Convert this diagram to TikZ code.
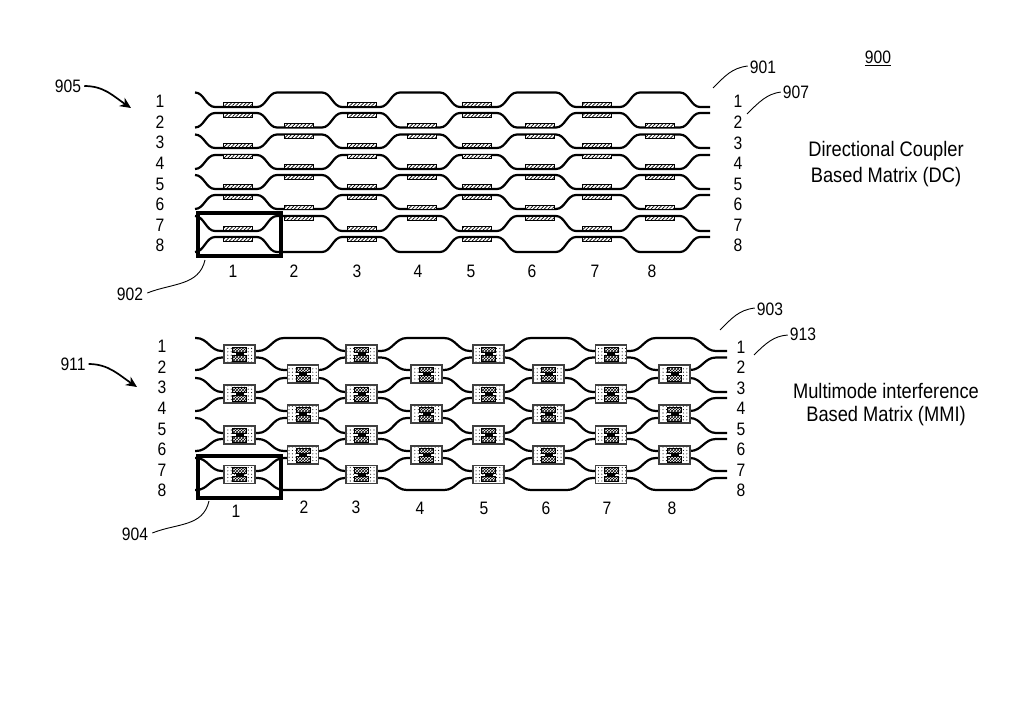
\documentclass[tikz,border=0pt]{standalone}
\usepackage{fontspec}
\setmainfont[FakeStretch=0.87]{Liberation Sans}
\usetikzlibrary{patterns,patterns.meta,arrows.meta}

\begin{document}
\begin{tikzpicture}[x=1pt,y=-1pt,
	wg/.style={line width=2.2pt, line join=round},
	hatch/.style={draw, line width=1pt, pattern={Lines[angle=45,distance=2.6pt,line width=0.7pt]}, preaction={fill=white}},
	mmi/.style={draw=black!75, line width=1.2pt, pattern={Dots[distance=3.4pt,radius=0.55pt]}, preaction={fill=white}},
	core/.style={draw, line width=0.8pt, pattern=crosshatch, preaction={fill=white}},
	unitbox/.style={draw, line width=3.5pt},
	lead/.style={line width=0.9pt},
	callout/.style={line width=1.7pt, -{Stealth[length=11pt,width=10pt]}},
	num/.style={font=\fontsize{18}{18}\selectfont, inner sep=0pt},
	caption/.style={font=\fontsize{21}{21}\selectfont, inner sep=0pt}]
	\useasboundingbox (0,0) rectangle (1024,702);

	% DC matrix
	\foreach \first/\second in {92.5/107,127.5/113,134.5/148,169/155,175/189,209/195,216/231,252/237}{
		\draw[wg] (195,\first) \foreach \t [count=\k, evaluate=\k as \ya using {ifthenelse(isodd(\k),\first,\second)}, evaluate=\k as \yb using {ifthenelse(isodd(\k),\second,\first)}] in {205,267,332,390,450,507,566,630,690}{
			-- (\t-10,\ya) .. controls (\t-1,\ya) and (\t+1,\yb) .. (\t+10,\yb)
		} -- (710,\second);
	}
	\foreach \x in {238,361.5,477,596.5}{
		\foreach \y in {107,148,189,231}{
			\draw[hatch] (\x-14.5,\y-4.5) rectangle (\x+14.5,\y-0.5);
			\draw[hatch] (\x-14.5,\y+6.5) rectangle (\x+14.5,\y+10.5);
		}
	}
	\foreach \x in {298.5,421.5,540,660}{
		\foreach \y in {127.5,169,209.5}{
			\draw[hatch] (\x-14.5,\y-4.5) rectangle (\x+14.5,\y-0.5);
			\draw[hatch] (\x-14.5,\y+6.5) rectangle (\x+14.5,\y+10.5);
		}
	}
	\draw[unitbox] (198,213) rectangle (281,256);

	% MMI matrix
	\foreach \first/\second in {338/351,370/357.5,378/392,411/398,418/433,451/439,458/471,490/478}{
		\draw[wg] (195,\first) \foreach \t [count=\k, evaluate=\k as \ya using {ifthenelse(isodd(\k),\first,\second)}, evaluate=\k as \yb using {ifthenelse(isodd(\k),\second,\first)}] in {209,271,332,394,457,518,580,643,703}{
			-- (\t-13,\ya) .. controls (\t-1,\ya) and (\t+1,\yb) .. (\t+13,\yb)
		} -- (727,\second);
	}
	\foreach \x in {239.5,361.5,488.5,611}{
		\foreach \y in {354,394,435,474.5}{
			\draw[mmi] (\x-15.5,\y-9) rectangle (\x+15.5,\y+9);
			\draw[core] (\x-7,\y-7) rectangle (\x+7,\y-1.5);
			\draw[core] (\x-7,\y+1.5) rectangle (\x+7,\y+7);
			\fill (\x-4,\y-2) rectangle (\x+4,\y+2);
		}
	}
	\foreach \x in {303,426.5,548.5,674.5}{
		\foreach \y in {374,414,455}{
			\draw[mmi] (\x-15.5,\y-9) rectangle (\x+15.5,\y+9);
			\draw[core] (\x-7,\y-7) rectangle (\x+7,\y-1.5);
			\draw[core] (\x-7,\y+1.5) rectangle (\x+7,\y+7);
			\fill (\x-4,\y-2) rectangle (\x+4,\y+2);
		}
	}
	\draw[unitbox] (198,456) rectangle (281,498);

	% port numbers
	\foreach \n/\y/\z in {1/101/101,2/122/122,3/142/143,4/163/163,5/184/184,6/204/204,7/225/225,8/245/245}{
		\node[num] (dcl\n) at (160,\y) {\n};
		\node[num] (dcr\n) at (738,\z) {\n};
	}
	\foreach \n/\y/\z in {1/346/347,2/367/367,3/387/388,4/408/408,5/429/429,6/449/449,7/470/470,8/490/490}{
		\node[num] (mml\n) at (162,\y) {\n};
		\node[num] (mmr\n) at (741,\z) {\n};
	}
	\foreach \n/\x in {1/233,2/294,3/357,4/418,5/471,6/532,7/595,8/652}{
		\node[num] (dcc\n) at (\x,271) {\n};
	}
	\foreach \n/\x/\y in {1/236/511,2/304/507,3/356/507,4/420/508,5/484/508,6/546/508,7/607/508,8/672/508}{
		\node[num] (mmc\n) at (\x,\y) {\n};
	}

	% reference numerals
	\node[num] (n900) at (878,58) {\underline{900}};
	\node[num] (n905) at (68,86) {905};
	\node[num] (n902) at (130,294) {902};
	\node[num] (n901) at (763,67) {901};
	\node[num] (n907) at (796,92) {907};
	\node[num] (n903) at (770,309) {903};
	\node[num] (n913) at (803,334) {913};
	\node[num] (n911) at (73,364) {911};
	\node[num] (n904) at (135,534) {904};

	\coordinate (a905) at (131,108);
	\coordinate (a911) at (137,387);
	\coordinate (e902) at (205,260);
	\coordinate (e904) at (209,501);
	\coordinate (e901) at (713,88);
	\coordinate (e907) at (747,114);
	\coordinate (e903) at (720,330);
	\coordinate (e913) at (754,355);

	\draw[callout] (n905.east) ++(3,0) .. controls +(20,0) and +(-18,-12) .. (a905);
	\draw[callout] (n911.east) ++(3,0) .. controls +(20,0) and +(-18,-12) .. (a911);
	\draw[lead] (n902.east) ++(4,-1) .. controls +(25,-10) and +(-6,26) .. (e902);
	\draw[lead] (n904.east) ++(4,-1) .. controls +(25,-10) and +(-6,26) .. (e904);
	\draw[lead] (n901.west) ++(-2,-1) .. controls +(-16,2) and +(12,-12) .. (e901);
	\draw[lead] (n907.west) ++(-2,0) .. controls +(-14,2) and +(12,-12) .. (e907);
	\draw[lead] (n903.west) ++(-2,-1) .. controls +(-16,2) and +(12,-12) .. (e903);
	\draw[lead] (n913.west) ++(-2,1) .. controls +(-14,1) and +(12,-12) .. (e913);

	% captions
	\node[caption] (dc1) at (886,151) {Directional Coupler};
	\node[caption] (dc2) at (886,177) {Based Matrix (DC)};
	\node[caption] (mm1) at (886,391) {Multimode interference};
	\node[caption] (mm2) at (886,416) {Based Matrix (MMI)};
\end{tikzpicture}
\end{document}
